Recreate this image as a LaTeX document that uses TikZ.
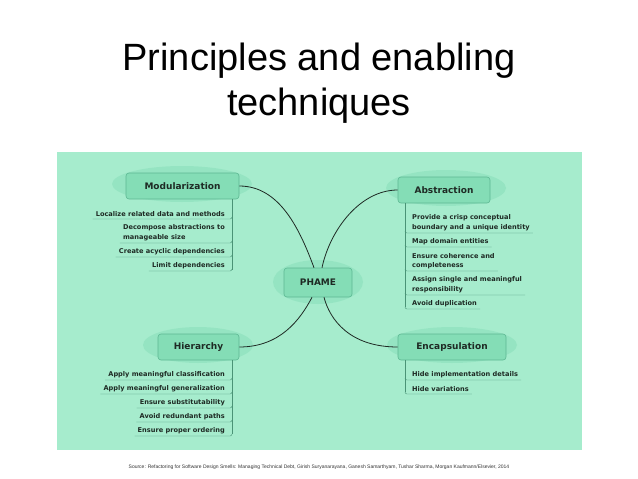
\documentclass[tikz,border=0pt]{standalone}
\usepackage{fontspec}
\setmainfont{Liberation Sans}
\newfontfamily\dvb{DejaVu Sans}
\definecolor{bg}{HTML}{A6ECCD}
\definecolor{boxf}{HTML}{84DDB6}
\definecolor{boxd}{HTML}{5DB893}
\definecolor{cloud}{HTML}{8FE2BE}
\definecolor{ink}{HTML}{1E2A24}
\begin{document}
\begin{tikzpicture}[x=1pt,y=-1pt,
  topic/.style={draw=boxd,fill=boxf,rounded corners=3pt,line width=0.6pt,font=\dvb\bfseries\fontsize{9}{10}\selectfont,text=ink,inner sep=0pt},
  litem/.style={font=\dvb\bfseries\fontsize{6.6}{9.6}\selectfont,text=ink,align=right,anchor=east,inner sep=0pt},
  ritem/.style={font=\dvb\bfseries\fontsize{6.6}{9.6}\selectfont,text=ink,align=left,anchor=west,inner sep=0pt},
  uline/.style={draw=boxd!80!black,line width=0.4pt},
  conn/.style={draw=ink,line width=0.8pt}]
\useasboundingbox (0,0) rectangle (638,479);
\fill[white] (0,0) rectangle (638,479);
\node[font=\fontsize{38}{45}\selectfont,align=center,text=black] (title) at (319,83) {Principles and enabling\\techniques};
\fill[bg] (57,152) rectangle (582,450);
% clouds
\foreach \p/\a/\b in {{(182,184)}/70/18,{(446,188)}/60/18,{(318,282)}/45/22,{(198,345)}/55/18,{(452,345)}/65/18}
  \fill[cloud,opacity=0.7] \p ellipse ({\a pt} and {\b pt});
% topic nodes
\node[topic,minimum width=113pt,minimum height=26pt] (mod) at (182.5,186) {Modularization};
\node[topic,minimum width=92pt,minimum height=26pt] (abs) at (444,190) {Abstraction};
\node[topic,minimum width=68pt,minimum height=29pt] (phame) at (318,282.5) {PHAME};
\node[topic,minimum width=81pt,minimum height=26pt] (hier) at (198.5,347) {Hierarchy};
\node[topic,minimum width=108pt,minimum height=26pt] (enc) at (452,347) {Encapsulation};
% connectors
\draw[conn] (mod.east) .. controls (280,186) and (300,230) .. ([xshift=-4pt]phame.north);
\draw[conn] (abs.west) .. controls (360,190) and (330,230) .. ([xshift=4pt]phame.north);
\draw[conn] (hier.east) .. controls (280,347) and (300,320) .. ([xshift=-6pt]phame.south);
\draw[conn] (enc.west) .. controls (350,347) and (330,320) .. ([xshift=6pt]phame.south);
% left list (modularization)
\node[litem] (m1) at (225,214) {Localize related data and methods};
\node[litem,align=left] (m2) at (225,233) {Decompose abstractions to\\manageable size};
\node[litem] (m3) at (225,252) {Create acyclic dependencies};
\node[litem] (m4) at (225,266) {Limit dependencies};
\draw[uline] (mod.south -| 232,0) -- (232,270);
\foreach \n/\y in {m1/219,m2/243,m3/257,m4/271}
  \draw[uline] (\n.west |- 0,\y) ++(-3,0) -- (230,\y) to[out=0,in=270] (232,\y-2);
% right list (abstraction)
\node[ritem] (a1) at (412,223) {Provide a crisp conceptual\\boundary and a unique identity};
\node[ritem] (a2) at (412,242) {Map domain entities};
\node[ritem] (a3) at (412,261) {Ensure coherence and\\completeness};
\node[ritem] (a4) at (412,285) {Assign single and meaningful\\responsibility};
\node[ritem] (a5) at (412,304) {Avoid duplication};
\draw[uline] (405,203) -- (405,307);
\foreach \n/\y in {a1/233,a2/247,a3/271,a4/295,a5/309}
  \draw[uline] (405,\y-2) to[out=270,in=180] (407,\y) -- ([xshift=3pt]\n.east |- 0,\y);
% hierarchy
\node[litem] (h1) at (225,375) {Apply meaningful classification};
\node[litem] (h2) at (225,389) {Apply meaningful generalization};
\node[litem] (h3) at (225,403) {Ensure substitutability};
\node[litem] (h4) at (225,417) {Avoid redundant paths};
\node[litem] (h5) at (225,431) {Ensure proper ordering};
\draw[uline] (232,360) -- (232,434);
\foreach \n/\y in {h1/380,h2/394,h3/408,h4/422,h5/436}
  \draw[uline] (\n.west |- 0,\y) ++(-3,0) -- (230,\y) to[out=0,in=270] (232,\y-2);
% encapsulation
\node[ritem] (e1) at (412,375) {Hide implementation details};
\node[ritem] (e2) at (412,389) {Hide variations};
\draw[uline] (405,360) -- (405,392);
\foreach \n/\y in {e1/380,e2/394}
  \draw[uline] (405,\y-2) to[out=270,in=180] (407,\y) -- ([xshift=3pt]\n.east |- 0,\y);
\node[font=\fontsize{5}{6}\selectfont,text=black!80] (src) at (319,467) {Source: Refactoring for Software Design Smells: Managing Technical Debt, Girish Suryanarayana, Ganesh Samarthyam, Tushar Sharma, Morgan Kaufmann/Elsevier, 2014};
\end{tikzpicture}
\end{document}
